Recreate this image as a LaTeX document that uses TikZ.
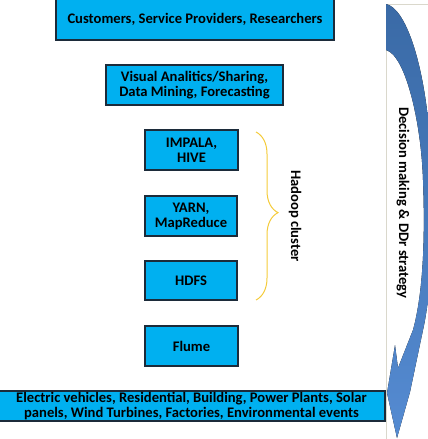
\documentclass[tikz,border=0pt]{standalone}
\usepackage{fontspec}
\setmainfont{Carlito}
\usetikzlibrary{decorations.pathreplacing,positioning,calc}
\definecolor{layerblue}{HTML}{00B0F0}
\definecolor{layerline}{HTML}{1C2B3A}
\definecolor{bracegold}{HTML}{F4CB3A}
\definecolor{framegray}{HTML}{DAD8CC}
\definecolor{arrowtop}{HTML}{3A6AA6}
\definecolor{arrowmid}{HTML}{6D9BD6}
\definecolor{arrowbot}{HTML}{558BD2}
\tikzset{
	layer/.style={rectangle,fill=layerblue,draw=layerline,line width=1.2pt,inner sep=0pt,align=center,font=\bfseries\fontsize{14.6}{15}\selectfont},
	clusterbrace/.style={decorate,decoration={brace,amplitude=22pt,aspect=0.48},color=bracegold,line width=1pt},
	sidelabel/.style={font=\bfseries\fontsize{14.6}{15}\selectfont,rotate=-90},
	loopframe/.style={color=framegray,line width=0.6pt}
}
\begin{document}
\begin{tikzpicture}[x=1pt,y=-1pt]
		\useasboundingbox (0,0) rectangle (428,439);
		\clip (0,0) rectangle (428,439);
		%%%layers
		\node[layer,minimum width=278pt,minimum height=42pt] (cust) at (195,19) {Customers, Service Providers, Researchers};
		\node[layer,minimum width=177pt,minimum height=40pt] (visual) at (194.5,85) {Visual Analitics/Sharing,\\Data Mining, Forecasting};
		\node[layer,minimum width=93pt,minimum height=40pt] (impala) at (191.5,150) {IMPALA,\\HIVE};
		\node[layer,minimum width=92pt,minimum height=40pt] (yarn) at (191,216) {YARN,\\MapReduce};
		\node[layer,minimum width=92pt,minimum height=39pt] (hdfs) at (191,280.5) {HDFS};
		\node[layer,minimum width=93pt,minimum height=40pt] (flume) at (191.5,346) {Flume};
		\node[layer,minimum width=387pt,minimum height=30pt] (sources) at (191.5,406) {Electric vehicles, Residential, Building, Power Plants, Solar\\panels, Wind Turbines, Factories, Environmental events};
		
		%%%hadoop cluster
		\coordinate (bt) at (256,132);
		\coordinate (bb) at (256,300);
		\draw[clusterbrace] (bt) -- (bb);
		\node[sidelabel] (hadoop) at (295,216) {Hadoop cluster};
		
		%%%decision loop
		\draw[loopframe] (386,439) -- (386,4) -- (430,4);
		\fill[top color=arrowtop,middle color=arrowmid,bottom color=arrowbot]
		(386,4) .. controls (405,8) and (424,60) .. (430,140)
		.. controls (435,220) and (432,290) .. (423,330)
		-- (410,392) -- (397,438) -- (387,393) -- (395,345) -- (398,368) -- (413,330)
		.. controls (424,290) and (425,230) .. (423,180)
		.. controls (421,120) and (405,55) .. (386,50) -- cycle;
		\node[sidelabel] (decision) at (403,203) {Decision making \& DDr strategy};
	\end{tikzpicture}
\end{document}
